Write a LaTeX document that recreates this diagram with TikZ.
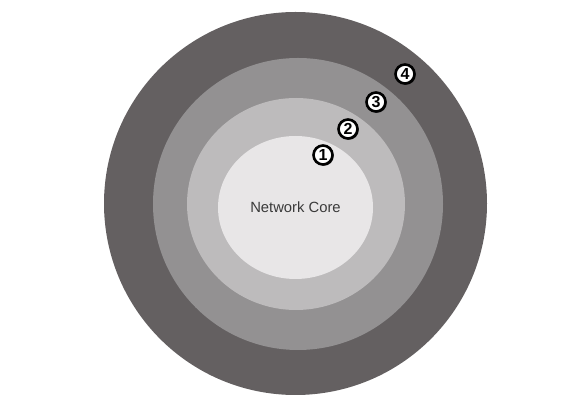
\documentclass[tikz,border=0pt]{standalone}
\usepackage{fontspec}
\setmainfont{Liberation Sans}
\usetikzlibrary{shapes.geometric, shadows, positioning}

\definecolor{ringfour}{HTML}{646061}
\definecolor{ringthree}{HTML}{939192}
\definecolor{ringtwo}{HTML}{BDBBBC}
\definecolor{coreface}{HTML}{E8E6E7}
\definecolor{coretext}{HTML}{3A3A3A}

\begin{document}
\begin{tikzpicture}[
	  x=1pt, y=1pt,
	  layer/.style={ellipse, inner sep=0pt, draw=none},
	  badge/.style={circle, draw=black, line width=2.6pt, fill=white, minimum size=19pt, inner sep=0pt,
	    font=\fontsize{16}{16}\selectfont\bfseries, drop shadow={shadow xshift=1.2pt, shadow yshift=-1.2pt, opacity=0.7, fill=black}}
	]
	\useasboundingbox (0,0) rectangle (584,401);

	\node (outer) [layer, fill=ringfour, minimum width=383pt, minimum height=383pt] at (295.5,197.5) {};
	\node (dist) [layer, fill=ringthree, minimum width=290pt, minimum height=292pt] at (298,197) {};
	\node (access) [layer, fill=ringtwo, minimum width=218pt, minimum height=212pt] at (296,197) {};
	\node (core) [layer, fill=coreface, minimum width=155pt, minimum height=143pt, text=coretext,
	  font=\fontsize{14.8}{14.8}\selectfont] at (295.5,193.5) {Network Core};

	\node (one) [badge] at (323,246) {1};
	\node (two) [badge] at (348,272) {2};
	\node (three) [badge] at (376,299) {3};
	\node (four) [badge] at (405,327) {4};

\end{tikzpicture}
\end{document}
